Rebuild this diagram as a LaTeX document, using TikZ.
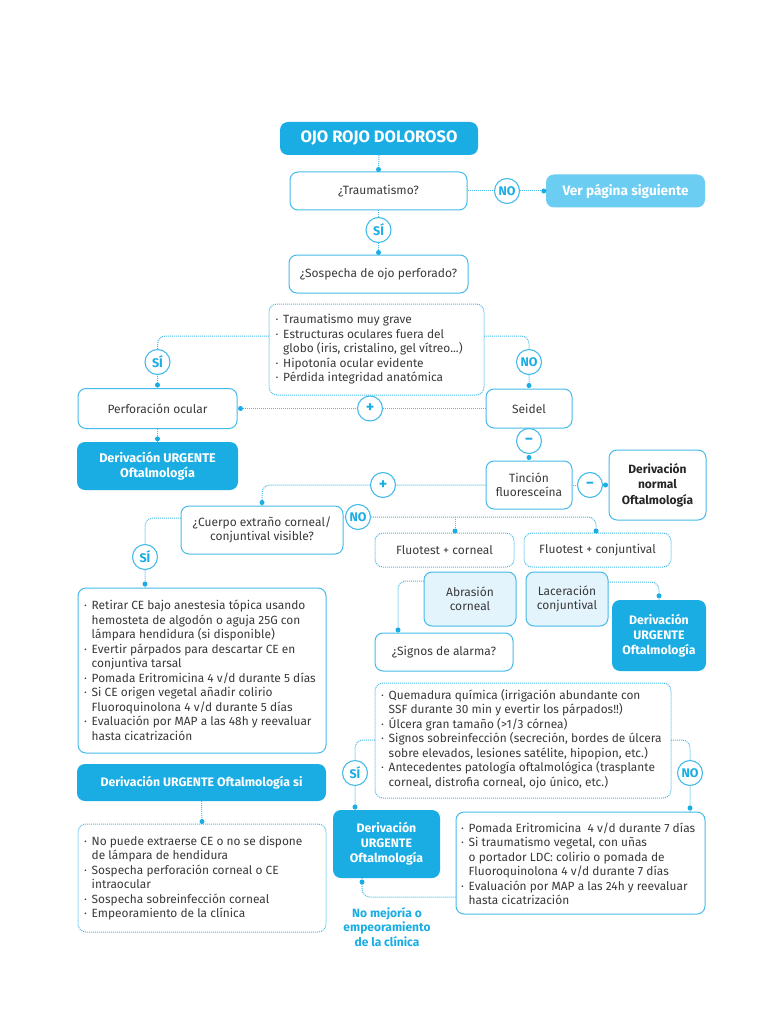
\documentclass[tikz,border=0pt]{standalone}
\usepackage{fontspec}
\setmainfont{Fira Sans}
\usetikzlibrary{calc}
\definecolor{blu}{HTML}{1AADE4}
\definecolor{lblu}{HTML}{6CCDF3}
\definecolor{pale}{HTML}{E3F4FC}
\definecolor{brd}{HTML}{45BBEB}
\definecolor{txt}{HTML}{3A3A3A}
\newcommand\bul{\makebox[7.5pt][l]{·}}
\newcommand\ind{\hspace*{7.5pt}}
\begin{document}
\begin{tikzpicture}[x=1pt,y=-1pt,
  wbox/.style={draw=brd, line width=1pt, rounded corners=8pt, fill=white, text=txt, align=center, inner sep=0pt, font=\fontsize{12}{14.5}\selectfont},
  pbox/.style={wbox, fill=pale},
  bbox/.style={fill=blu, rounded corners=8pt, text=white, align=center, inner sep=0pt, font=\bfseries\fontsize{12.6}{15.5}\selectfont},
  dbox/.style={draw=brd, line width=1pt, dash pattern=on 1pt off 1pt, rounded corners=8pt, fill=white, text=txt, align=center, inner sep=0pt, font=\fontsize{12}{14.5}\selectfont},
  btxt/.style={anchor=west, align=left, text=txt, inner sep=0pt, font=\fontsize{11.9}{14.5}\selectfont},
  conn/.style={draw=brd, line width=1pt, dash pattern=on 1pt off 1pt, rounded corners=8pt},
  lab/.style={circle, draw=brd, line width=1.1pt, fill=white, minimum size=25pt, inner sep=0pt, text=blu, font=\bfseries\fontsize{12.5}{12.5}\selectfont},
  sgn/.style={lab, font=\bfseries\fontsize{16}{16}\selectfont},
  dotm/.style={circle, fill=blu, minimum size=5pt, inner sep=0pt}]
\useasboundingbox (0,0) rectangle (768,1024);
\fill[white] (0,0) rectangle (768,1024);

% boxes
\node[bbox, minimum width=198, minimum height=33, font=\bfseries\fontsize{16.5}{18}\selectfont] (title) at (379,138.5) {OJO ROJO DOLOROSO};
\node[wbox, minimum width=177, minimum height=38] (trauma) at (378.5,191) {¿Traumatismo?};
\node[bbox, fill=lblu, minimum width=159, minimum height=33, font=\bfseries\fontsize{13.6}{15}\selectfont] (ver) at (625.5,191) {Ver página siguiente};
\node[wbox, minimum width=179, minimum height=38] (sosp) at (378.5,274) {¿Sospecha de ojo perforado?};
\node[dbox, minimum width=215, minimum height=91] (crit) at (376.5,349.5) {};
\node[btxt] (critt) at (275.5,349.5) {\bul Traumatismo muy grave\\\bul Estructuras oculares fuera del\\\ind globo (iris, cristalino, gel vítreo...)\\\bul Hipotonía ocular evidente\\\bul Pérdida integridad anatómica};
\node[wbox, minimum width=159, minimum height=40] (perf) at (157.5,408.5) {Perforación ocular};
\node[wbox, minimum width=86, minimum height=39] (seidel) at (529,408.5) {Seidel};
\node[bbox, minimum width=161, minimum height=48] (derivL) at (157.5,466) {Derivación URGENTE\\Oftalmología};
\node[wbox, minimum width=86, minimum height=48] (tinc) at (529,485) {Tinción\\fluoresceína};
\node[wbox, minimum width=97, minimum height=70, font=\bfseries\fontsize{12}{15.5}\selectfont, text=black!85] (normal) at (657.5,485) {Derivación\\normal\\Oftalmología};
\node[wbox, minimum width=162, minimum height=48] (cuerpo) at (262,530) {¿Cuerpo extraño corneal/\\conjuntival visible?};
\node[dbox, minimum width=139, minimum height=34] (fluoC) at (444.5,550) {Fluotest + corneal};
\node[dbox, minimum width=147, minimum height=34] (fluoJ) at (597.5,550) {Fluotest + conjuntival};
\node[pbox, minimum width=92, minimum height=54] (abras) at (470,599) {Abrasión\\corneal};
\node[pbox, minimum width=82, minimum height=54] (lacer) at (567,599) {Laceración\\conjuntival};
\node[wbox, minimum width=138, minimum height=38] (signos) at (444,652) {¿Signos de alarma?};
\node[bbox, minimum width=94, minimum height=71, font=\bfseries\fontsize{12.3}{15}\selectfont] (derivR) at (659,635.5) {Derivación\\URGENTE\\Oftalmología};
\node[wbox, minimum width=248, minimum height=165] (ret) at (202,670.5) {};
\node[btxt] (rett) at (84,670.5) {\bul Retirar CE bajo anestesia tópica usando\\\ind hemosteta de algodón o aguja 25G con\\\ind lámpara hendidura (si disponible)\\\bul Evertir párpados para descartar CE en\\\ind conjuntiva tarsal\\\bul Pomada Eritromicina 4 v/d durante 5 días\\\bul Si CE origen vegetal añadir colirio\\\ind Fluoroquinolona 4 v/d durante 5 días\\\bul Evaluación por MAP a las 48h y reevaluar\\\ind hasta cicatrización};
\node[bbox, minimum width=249, minimum height=37, font=\bfseries\fontsize{12.3}{14}\selectfont] (derivSi) at (201.5,782.5) {Derivación URGENTE Oftalmología si};
\node[dbox, minimum width=248, minimum height=108] (nop) at (202,878) {};
\node[btxt] (nopt) at (84,878) {\bul No puede extraerse CE o no se dispone\\\ind de lámpara de hendidura\\\bul Sospecha perforación corneal o CE\\\ind intraocular\\\bul Sospecha sobreinfección corneal\\\bul Empeoramiento de la clínica};
\node[dbox, minimum width=296, minimum height=115] (alarm) at (523,740.5) {};
\node[btxt] (alarmt) at (381,739) {\bul Quemadura química (irrigación abundante con\\\ind SSF durante 30 min y evertir los párpados!!)\\\bul Úlcera gran tamaño (>1/3 córnea)\\\bul Signos sobreinfección (secreción, bordes de úlcera\\\ind sobre elevados, lesiones satélite, hipopion, etc.)\\\bul Antecedentes patología oftalmológica (trasplante\\\ind corneal, distrofia corneal, ojo único, etc.)};
\node[bbox, minimum width=107, minimum height=68, font=\bfseries\fontsize{12.3}{15}\selectfont] (derivU) at (386.5,844) {Derivación\\URGENTE\\Oftalmología};
\node[wbox, minimum width=249, minimum height=102] (pom) at (580.5,863) {};
\node[btxt] (pomt) at (461,864) {\bul Pomada Eritromicina\ \ 4 v/d durante 7 días\\\bul Si traumatismo vegetal, con uñas\\\ind o portador LDC: colirio o pomada de\\\ind Fluoroquinolona 4 v/d durante 7 días\\\bul Evaluación por MAP a las 24h y reevaluar\\\ind hasta cicatrización};
\node[text=blu, align=center, inner sep=0pt, font=\bfseries\fontsize{12}{14.5}\selectfont] (nomej) at (387,927) {No mejoría o\\empeoramiento\\de la clínica};

% connector end points
\coordinate (critL) at (269,336);
\coordinate (critR) at (484,336);
\coordinate (cuL) at (181,518);
\coordinate (cuR) at (343,517);
\coordinate (retN) at (145,588);
\coordinate (brC) at (455,517);
\coordinate (fcN) at (455,533);
\coordinate (fjN) at (596,533);
\coordinate (abL) at (424,581);
\coordinate (sigN) at (398,633);
\coordinate (laR) at (608,582);
\coordinate (alL) at (375,740);
\coordinate (alR) at (671,740);
\coordinate (duN) at (355,810);
\coordinate (poN) at (690,812);
\coordinate (duS) at (362,878);
\coordinate (poW) at (456,897);

% connectors
\draw[conn] (title.south) -- (trauma.north);
\draw[conn] (trauma.east) -- (ver.west);
\draw[conn] (trauma.south) -- (sosp.north);
\draw[conn] (critL) -| (perf.north);
\draw[conn] (critR) -| (seidel.north);
\draw[conn] (seidel.west) -- (perf.east);
\draw[conn] (perf.south) -- (derivL.north);
\draw[conn] (seidel.south) -- (tinc.north);
\draw[conn] (tinc.east) -- (normal.west);
\draw[conn] (tinc.west) -| (cuerpo.north);
\draw[conn] (cuR) -| (fjN);
\draw[conn] (brC) -- (fcN);
\draw[conn] (cuL) -| (retN);
\draw[conn] (abL) -| (sigN);
\draw[conn] (laR) -| (derivR.north);
\draw[conn] (derivSi.south) -- (nop.north);
\draw[conn] (alL) -| (duN);
\draw[conn] (alR) -| (poN);
\draw[conn] (duS) |- (poW);

% dots
\node[dotm] (p1) at ($(trauma.north)+(0,-2)$) {};
\node[dotm] (p2) at ($(ver.west)+(-2,0)$) {};
\node[dotm] (p3) at ($(sosp.north)+(0,-2)$) {};
\node[dotm] (p4) at ($(perf.north)+(0,-3)$) {};
\node[dotm] (p5) at ($(seidel.north)+(0,-3)$) {};
\node[dotm] (p6) at ($(perf.east)+(3,0)$) {};
\node[dotm] (p7) at ($(derivL.north)+(0,-3)$) {};
\node[dotm] (p8) at ($(tinc.north)+(0,-3)$) {};
\node[dotm] (p9) at ($(normal.west)+(-3,0)$) {};
\node[dotm] (p10) at ($(cuerpo.north)+(0,-3)$) {};
\node[dotm] (p11) at ($(fcN)+(0,-2)$) {};
\node[dotm] (p12) at ($(fjN)+(0,-2)$) {};
\node[dotm] (p13) at ($(retN)+(0,-4)$) {};
\node[dotm] (p14) at ($(sigN)+(0,-3)$) {};
\node[dotm] (p15) at ($(derivR.north)+(0,-4)$) {};
\node[dotm] (p16) at ($(nop.north)+(0,-2)$) {};
\node[dotm] (p17) at ($(duN)+(0,-3)$) {};
\node[dotm] (p18) at ($(poN)+(0,-4)$) {};
\node[dotm] (p19) at ($(duS)+(0,4)$) {};

% labels
\node[lab] (no1) at (507,191) {NO};
\node[lab] (si1) at (378.5,230) {SÍ};
\node[lab] (si2) at (157.5,362) {SÍ};
\node[lab] (no2) at (529,362) {NO};
\node[sgn] (pl1) at (370,408.5) {+};
\node[sgn] (mi1) at (529,441) {−};
\node[sgn] (mi2) at (590,485) {−};
\node[sgn] (pl2) at (383,485) {+};
\node[lab] (no3) at (358,517) {NO};
\node[lab] (si3) at (145,557) {SÍ};
\node[lab] (si4) at (355,773) {SÍ};
\node[lab] (no4) at (690,773) {NO};
\end{tikzpicture}
\end{document}
